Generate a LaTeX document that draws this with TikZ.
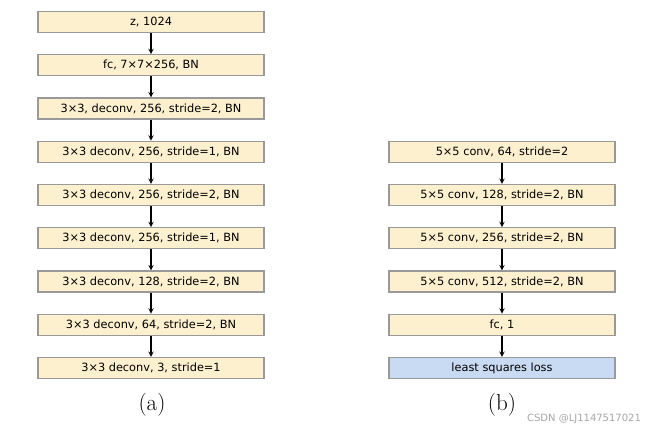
\documentclass[tikz,border=0pt]{standalone}
\usepackage{fontspec}
\newfontfamily\boxfont{DejaVu Sans}
\usetikzlibrary{positioning}
\definecolor{layerfill}{HTML}{FDF0CF}
\definecolor{lossfill}{HTML}{C9DAF3}

\tikzset{
  layer/.style={draw=gray!80, line width=0.9pt, fill=#1, minimum width=169.5pt, minimum height=15.75pt,
    inner sep=0pt, font=\boxfont\fontsize{8.5}{10}\selectfont},
  layer/.default={layerfill},
  flow/.style={->, >=stealth, line width=0.8pt}
}

\begin{document}
\begin{tikzpicture}[x=0.75pt, y=-0.75pt]
		\useasboundingbox (0,0) rectangle (666,433);

		% Generator
		\foreach \t [count=\i] in {z{,} 1024, fc{,} 7×7×256{,} BN, 3×3{,} deconv{,} 256{,} stride=2{,} BN,
				3×3 deconv{,} 256{,} stride=1{,} BN, 3×3 deconv{,} 256{,} stride=2{,} BN,
				3×3 deconv{,} 256{,} stride=1{,} BN, 3×3 deconv{,} 128{,} stride=2{,} BN,
				3×3 deconv{,} 64{,} stride=2{,} BN, 3×3 deconv{,} 3{,} stride=1} {
				\node[layer] (g\i) at (151, {22+43.25*(\i-1)}) {\t};
			}
		\foreach \i [evaluate=\i as \j using int(\i+1)] in {1,...,8} {
				\draw[flow] (g\i) -- (g\j);
			}

		% Discriminator
		\foreach \t [count=\i] in {5×5 conv{,} 64{,} stride=2, 5×5 conv{,} 128{,} stride=2{,} BN,
				5×5 conv{,} 256{,} stride=2{,} BN, 5×5 conv{,} 512{,} stride=2{,} BN, fc{,} 1} {
				\node[layer] (d\i) at (502, {22+43.25*(\i+2)}) {\t};
			}
		\node[layer=lossfill] (d6) at (502, 368) {least squares loss};
		\foreach \i [evaluate=\i as \j using int(\i+1)] in {1,...,5} {
				\draw[flow] (d\i) -- (d\j);
			}

		% Captions
		\node[font=\LARGE] (capa) at (152, 405) {(a)};
		\node[font=\LARGE] (capb) at (502, 405) {(b)};
		\node[font=\boxfont\fontsize{7.5}{9}\selectfont, text=gray!70] (mark) at (584, 419) {CSDN @LJ1147517021};
	\end{tikzpicture}
\end{document}
